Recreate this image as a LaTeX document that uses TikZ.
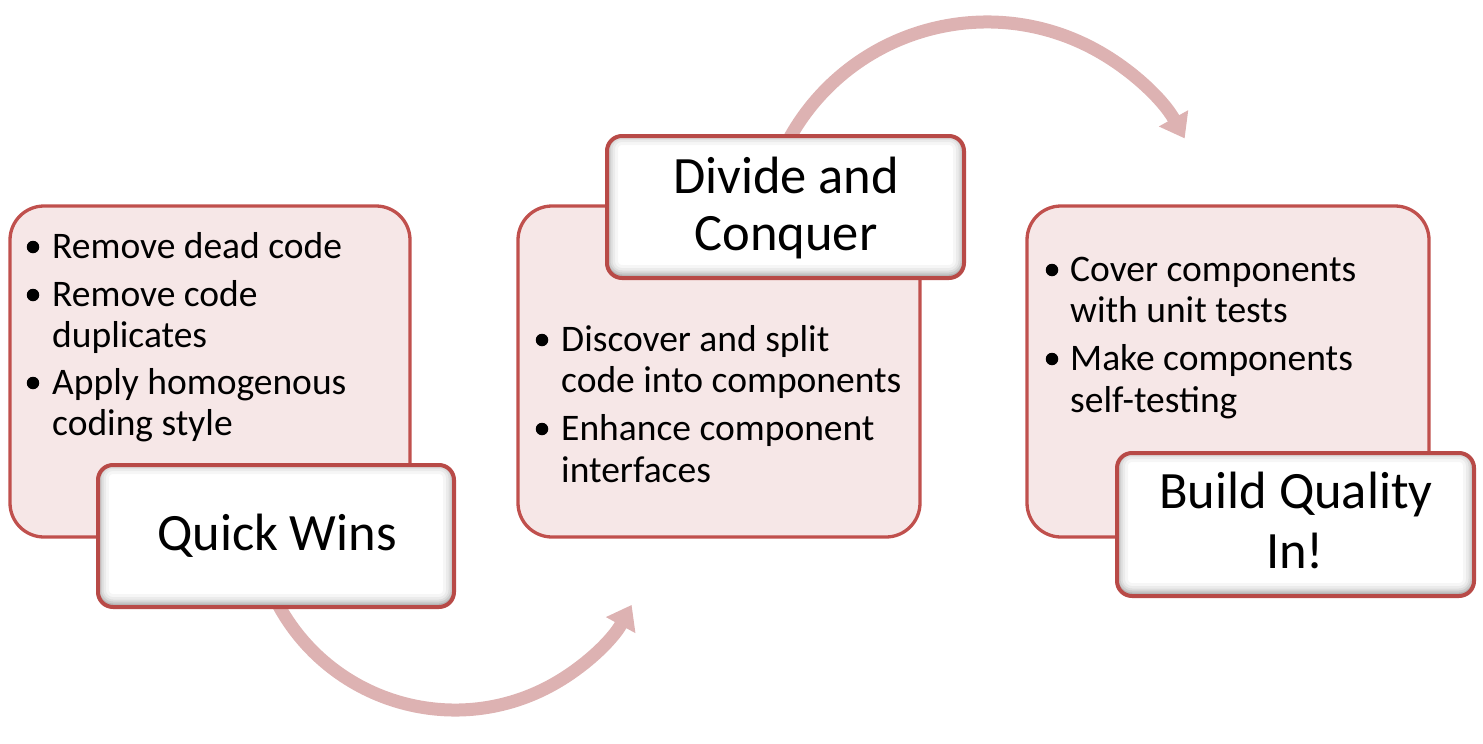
\documentclass[tikz,border=0pt]{standalone}
\usepackage{fontspec}
\setmainfont{Carlito}
\usetikzlibrary{arrows.meta,calc}
\definecolor{boxfill}{RGB}{246,231,231}
\definecolor{boxline}{RGB}{192,80,77}
\definecolor{titleline}{RGB}{184,74,71}
\definecolor{arrowcol}{RGB}{221,178,178}
\tikzset{
  pinkbox/.style={draw=boxline, fill=boxfill, line width=3.3pt, rounded corners=34pt, inner sep=0pt},
  titlebox/.style={draw=titleline, fill=white, line width=4pt, rounded corners=15pt, inner sep=0pt,
    path picture={
      \foreach \w/\o in {22/0.035,16/0.045,11/0.06,7/0.08,3/0.1}{
        \draw[line width=\w pt, black, opacity=\o, rounded corners=15pt]
          ([yshift=2pt]path picture bounding box.south west) rectangle
          ([yshift=2pt]path picture bounding box.north east);
      }}},
  flow/.style={draw=arrowcol, line width=13pt, -{Triangle[width=32pt,length=23pt]}},
  btext/.style={font=\fontsize{37.5}{41}\selectfont, anchor=base west, inner sep=0pt},
  bdot/.style={circle, fill=black, minimum size=12.5pt, inner sep=0pt},
  ttext/.style={font=\fontsize{52.5}{57}\selectfont, anchor=base, inner sep=0pt}
}
\begin{document}
\begin{tikzpicture}[x=1pt,y=-1pt]
\useasboundingbox (0,0) rectangle (1483,744);
% connectors (behind everything)
\coordinate (c1) at (455,509);
\coordinate (c2) at (987,248);
\coordinate (a1s) at ($(c1)+(152:201)$);
\coordinate (a2s) at ($(c2)+(-152:226)$);
\draw[flow] (a1s) arc[start angle=152, end angle=28.5, radius=201];
\draw[flow] (a2s) arc[start angle=-152, end angle=-29, radius=226];

% pink content boxes
\node[pinkbox, minimum width=400pt, minimum height=331pt] (b1) at (210,371.5) {};
\node[pinkbox, minimum width=402pt, minimum height=331pt] (b2) at (719,371.5) {};
\node[pinkbox, minimum width=402pt, minimum height=331pt] (b3) at (1228,371.5) {};

% box 1 text
\node[bdot] (d11) at (33,247) {};
\node[btext] (l11) at (52,258) {Remove dead code};
\node[bdot] (d12) at (33,295) {};
\node[btext] (l12) at (52,306) {Remove code};
\node[btext] (l13) at (52,347) {duplicates};
\node[bdot] (d13) at (33,383) {};
\node[btext] (l14) at (52,394) {Apply homogenous};
\node[btext] (l15) at (52,435) {coding style};

% box 2 text
\node[bdot] (d21) at (542,340) {};
\node[btext] (l21) at (561,351) {Discover and split};
\node[btext] (l22) at (561,392) {code into components};
\node[bdot] (d22) at (542,429) {};
\node[btext] (l23) at (561,440) {Enhance component};
\node[btext] (l24) at (561,482) {interfaces};

% box 3 text
\node[bdot] (d31) at (1052,270) {};
\node[btext] (l31) at (1070,281) {Cover components};
\node[btext] (l32) at (1070,322) {with unit tests};
\node[bdot] (d32) at (1052,359) {};
\node[btext] (l33) at (1070,370) {Make components};
\node[btext] (l34) at (1070,412) {self-testing};

% title boxes
\node[titlebox, minimum width=356pt, minimum height=142pt] (t1) at (276,536) {};
\node[ttext] (tt1) at (277,550) {Quick Wins};
\node[titlebox, minimum width=357pt, minimum height=142pt] (t2) at (785.5,207) {};
\node[ttext] (tt2a) at (786,193) {Divide and};
\node[ttext] (tt2b) at (786,250) {Conquer};
\node[titlebox, minimum width=357pt, minimum height=143pt] (t3) at (1295.5,524.5) {};
\node[ttext] (tt3a) at (1296,508) {Build Quality};
\node[ttext] (tt3b) at (1295,568) {In!};
\end{tikzpicture}
\end{document}
